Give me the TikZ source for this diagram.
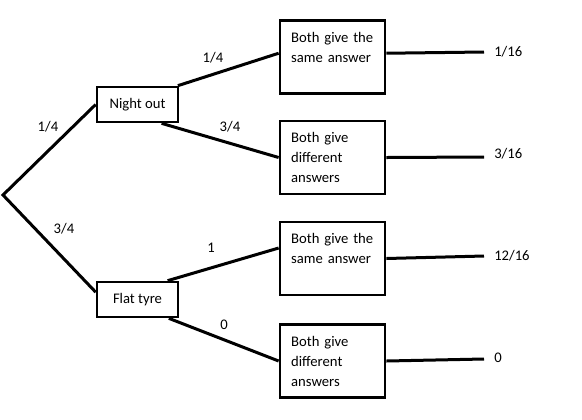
\documentclass[tikz,border=0pt]{standalone}
\usepackage{fontspec}
\setmainfont{Carlito}
\usepackage{tkz-euclide}
\usetikzlibrary{arrows,calc}

\begin{document}
\begin{tikzpicture}[x=0.75pt,y=-0.75pt,
        every node/.style={font=\fontsize{11}{15}\selectfont},
        event/.style={draw,line width=2pt,fill=white,minimum width=60.75pt,minimum height=26.25pt},
        outcome/.style={draw,line width=2pt,fill=white,text width=62pt,inner xsep=8.4pt,minimum height=54.75pt,align=left},
        branch/.style={line width=2.25pt},
        prob/.style={inner sep=0pt}]
        \useasboundingbox (0,0) rectangle (582,419);

        \tkzDefPoint(3,195){R}

        \tkzDefPoint(484,52){E_1}
        \tkzDefPoint(484,157){E_2}
        \tkzDefPoint(484,256){E_3}
        \tkzDefPoint(484,359){E_4}

        \node[event] (night) at (137.5,104.5) {Night out};
        \node[event] (flat) at (137.5,299.5) {Flat tyre};

        \node[outcome] (same1) at (332.5,57) {Both give the\\same answer\\\mbox{}};
        \node[outcome] (diff1) at (332.5,157.5) {Both give\\different\\answers};
        \node[outcome] (same2) at (332.5,258.5) {Both give the\\same answer\\\mbox{}};
        \node[outcome] (diff2) at (332.5,361) {Both give\\different\\answers};

        \draw[branch] (night.west) -- (R) -- (flat.170);
        \draw[branch] (night.25) -- (same1.176);
        \draw[branch] (night.-38) -- (diff1.west);
        \draw[branch] (flat.32) -- (same2.169);
        \draw[branch] (flat.-31) -- (diff2.west);

        \draw[branch] (same1.4) -- (E_1);
        \draw[branch] (diff1.east) -- (E_2);
        \draw[branch] (same2.east) -- (E_3);
        \draw[branch] (diff2.east) -- (E_4);

        \node[prob] (pnight) at (48,127) {1/4};
        \node[prob] (pflat) at (64,229) {3/4};
        \node[prob] (psame1) at (213,58) {1/4};
        \node[prob] (pdiff1) at (230,127) {3/4};
        \node[prob] (psame2) at (211,248) {1};
        \node[prob] (pdiff2) at (224,325) {0};

        \node[prob,anchor=west] (leaf1) at (494,52) {1/16};
        \node[prob,anchor=west] (leaf2) at (494,154) {3/16};
        \node[prob,anchor=west] (leaf3) at (494,256) {12/16};
        \node[prob,anchor=west] (leaf4) at (494,358) {0};
\end{tikzpicture}
\end{document}
